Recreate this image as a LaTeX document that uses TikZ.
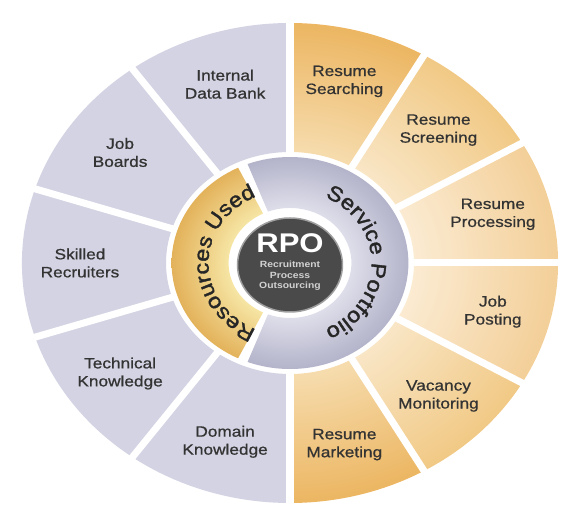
\documentclass[tikz,border=0pt]{standalone}
\usepackage{fontspec}
\setmainfont{Liberation Sans}[FakeStretch=1.15]
\newfontfamily\labelfont{Liberation Sans}[FakeStretch=1.15, FakeBold=0.8]
\newfontfamily\ringfont{Liberation Sans}[FakeStretch=1.12, FakeBold=1.6]
\usetikzlibrary{decorations.text}
\definecolor{lav}{HTML}{D3D3E3}
\definecolor{rpogrey}{HTML}{4A4A4A}
\definecolor{labeltext}{HTML}{333333}
\definecolor{orAin}{HTML}{F6DCAE}
\definecolor{orAout}{HTML}{ECB662}
\definecolor{orBin}{HTML}{F9E6C6}
\definecolor{orBout}{HTML}{F1C985}
\definecolor{orCin}{HTML}{FBEBD2}
\definecolor{orCout}{HTML}{F3CF98}
\definecolor{servin}{HTML}{DEDEEA}
\definecolor{servout}{HTML}{B3B3CA}
\definecolor{goldin}{HTML}{F6E5A4}
\definecolor{goldout}{HTML}{E3B25B}
% radial shadings, 25bp = outer radius of the shaded disc
\pgfdeclareradialshading{orshadeA}{\pgfpointorigin}{color(0bp)=(white); color(11.5bp)=(orAin); color(25bp)=(orAout); color(50bp)=(orAout)}
\pgfdeclareradialshading{orshadeB}{\pgfpointorigin}{color(0bp)=(white); color(11.5bp)=(orBin); color(25bp)=(orBout); color(50bp)=(orBout)}
\pgfdeclareradialshading{orshadeC}{\pgfpointorigin}{color(0bp)=(white); color(11.5bp)=(orCin); color(25bp)=(orCout); color(50bp)=(orCout)}
\pgfdeclareradialshading{servshade}{\pgfpointorigin}{color(0bp)=(white); color(13bp)=(servin); color(25bp)=(servout); color(50bp)=(servout)}
\pgfdeclareradialshading{goldshade}{\pgfpointorigin}{color(0bp)=(white); color(13bp)=(goldin); color(25bp)=(goldout); color(50bp)=(goldout)}
\tikzset{
  sector label/.style={align=center, font=\labelfont\fontsize{15}{18}\selectfont, text=labeltext},
  gap line/.style={white, line width=7pt},
  ring text/.style={decorate, decoration={text along path, text align=center,
    text={|\ringfont\fontsize{21}{21}\selectfont\color{black!85}|#1}}},
}
\begin{document}
\begin{tikzpicture}[x=1pt,y=1pt]
\useasboundingbox (-290,-264) rectangle (292,263);
\begin{scope}[xscale=1.117]
% outer ring
\foreach \a/\b in {90/126,126/162,162/198,198/234,234/270}
  \fill[lav] (\a:240) arc[start angle=\a, end angle=\b, radius=240] -- (\b:111)
    arc[start angle=\b, end angle=\a, radius=111] -- cycle;
\foreach \a/\b/\s in {60/90/orshadeA,30/60/orshadeB,0/30/orshadeC,-30/0/orshadeC,
  -60/-30/orshadeB,-90/-60/orshadeA}{
  \begin{scope}
    \clip (\a:240) arc[start angle=\a, end angle=\b, radius=240] -- (\b:111)
      arc[start angle=\b, end angle=\a, radius=111] -- cycle;
    \shade[shading=\s] (0,0) circle (240);
  \end{scope}
}
\foreach \a in {126,162,198,234,60,30,0,-30,-60}
  \draw[gap line] (\a:109) -- (\a:245);
\draw[gap line, line width=8pt] (90:109) -- (90:245) (270:109) -- (270:245);
% middle ring
\begin{scope}
  \clip (-111:106) arc[start angle=-111, end angle=111, radius=106] -- (111:55)
    arc[start angle=111, end angle=-111, radius=55] -- cycle;
  \shade[shading=servshade] (0,0) circle (106);
\end{scope}
\begin{scope}
  \clip (116:106) arc[start angle=116, end angle=244, radius=106] -- (244:55)
    arc[start angle=244, end angle=116, radius=55] -- cycle;
  \shade[shading=goldshade] (0,0) circle (106);
\end{scope}
% centre
\draw[fill=rpogrey, draw=gray!75, line width=1.5pt] (0,-2) circle (47);
\foreach \m/\t [count=\i] in {108/{Internal\\Data Bank},144/{Job\\Boards},
  180/{Skilled\\Recruiters},216/{Technical\\Knowledge},252/{Domain\\Knowledge},
  75/{Resume\\Searching},45/{Resume\\Screening},15/{Resume\\Processing},
  -15/{Job\\Posting},-45/{Vacancy\\Monitoring},-75/{Resume\\Marketing}}
  \node[sector label] (sector\i) at (\m:188) {\t};
\end{scope}
\node[font=\bfseries\fontsize{27}{27}\selectfont, text=white] (rpo) at (0,20) {RPO};
\node[align=center, font=\bfseries\fontsize{9}{10.5}\selectfont, text=gray!35] (rpofull) at (0,-13)
  {Recruitment\\Process\\Outsourcing};
\path[ring text=Resources Used] (257:81.5 and 73) arc[start angle=257, end angle=103, x radius=81.5, y radius=73];
\path[ring text=Service Portfolio] (77:81.5 and 73) arc[start angle=77, end angle=-77, x radius=81.5, y radius=73];
\end{tikzpicture}
\end{document}
